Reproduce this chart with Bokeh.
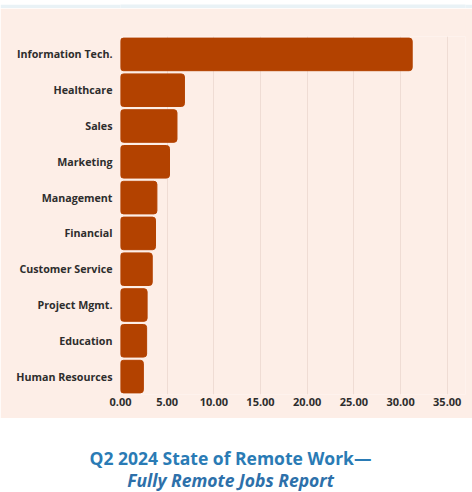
from bokeh.plotting import figure
from bokeh.layouts import column
from bokeh.models import Range1d, NumeralTickFormatter, FixedTicker, Div
from bokeh.embed import file_html
from bokeh.resources import INLINE

categories = ["Information Tech.", "Healthcare", "Sales", "Marketing", "Management",
              "Financial", "Customer Service", "Project Mgmt.", "Education", "Human Resources"]
values = [31.25, 6.85, 6.05, 5.25, 3.9, 3.75, 3.4, 2.85, 2.8, 2.45]
x_ticks = [0, 5, 10, 15, 20, 25, 30, 35]
title_line1 = "Q2 2024 State of Remote Work\u2014"
title_line2 = "Fully Remote Jobs Report"

peach = "#fdeee7"
bar_color = "#b34200"
blue = "#2a7bb5"

FRAME_L, FRAME_R = 120, 465

# thin light-blue strip above the card
strip = figure(x_range=Range1d(0, 1), y_range=Range1d(0, 1), width=472, height=8,
               output_backend="svg", toolbar_location=None, min_border=0,
               x_axis_location=None, y_axis_location=None)
strip.grid.visible = False
strip.outline_line_color = None
strip.background_fill_color = "#e9f2f6"
strip.border_fill_color = "#e9f2f6"

p = figure(y_range=list(reversed(categories)), x_range=Range1d(0, 36.96),
           width=472, height=410, output_backend="svg", toolbar_location=None,
           min_border_left=FRAME_L, min_border_right=472 - FRAME_R,
           min_border_top=28, min_border_bottom=24)
p.hbar(y=categories, right=values, height=0.91, fill_color=bar_color,
       line_color=bar_color, border_radius=3)

p.background_fill_color = peach
p.border_fill_color = peach
p.outline_line_color = None
p.ygrid.visible = False
p.xgrid.grid_line_color = "#efdcd4"
p.xaxis.ticker = FixedTicker(ticks=x_ticks)
p.xaxis.formatter = NumeralTickFormatter(format="0.00")
for ax in (p.xaxis, p.yaxis):
    ax.axis_line_color = None
    ax.major_tick_line_color = None
    ax.minor_tick_line_color = None
    ax.major_tick_out = 0
    ax.major_tick_in = 0
    ax.minor_tick_out = 0
    ax.major_label_text_font = "Open Sans"
    ax.major_label_text_font_style = "bold"
    ax.major_label_text_color = "#2d2d2d"
p.yaxis.major_label_text_font_size = "10.7px"
p.xaxis.major_label_text_font_size = "11px"
p.yaxis.major_label_standoff = 8
p.xaxis.major_label_standoff = 3

title_html = (
    '<div style="width:451px;padding-top:24px;text-align:center;font-family:\'Open Sans\';'
    'font-weight:bold;font-size:17.5px;line-height:22px;">'
    f'<div style="color:{blue};">{title_line1}</div>'
    f'<div style="color:#2d70aa;font-style:italic;">{title_line2}</div></div>'
)
t = Div(text=title_html, width=472, height=74, styles={"background-color": "white"})

layout = column(strip, p, t, spacing=0)
open("out.html", "w").write(file_html(layout, INLINE))
